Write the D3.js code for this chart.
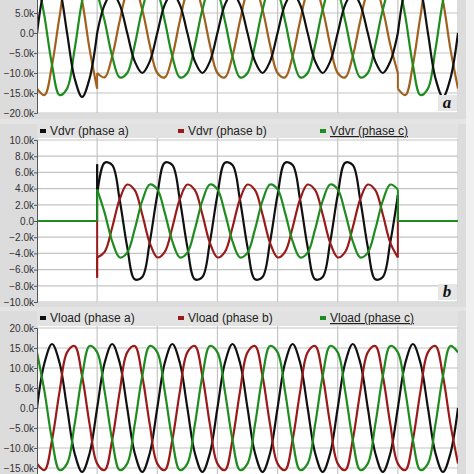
<!DOCTYPE html>
<html><head><meta charset="utf-8">
<script src="https://cdn.jsdelivr.net/npm/d3@7"></script>
<style>body{margin:0;background:#fff}svg{display:block}</style>
</head><body>
<svg id="c" width="474" height="474"></svg>
<script>
// time in ms; duplicated times mark jumps
const tJump = [0,2.5,5,7.5,10,12.5,15,17.5,20,
 20,22.5,25,27.5,30,32.5,35,37.5,40,42.5,45,47.5,50,52.5,55,57.5,60,62.5,65,67.5,70,72.5,75,77.5,80,82.5,85,87.5,90,92.5,95,97.5,100,102.5,105,107.5,110,112.5,115,117.5,120,
 120,122.5,125,127.5,130,132.5,135,137.5,140];
const tSpike = [0,2.5,5,7.5,10,12.5,15,17.5,20,
 20,20,22.5,25,27.5,30,32.5,35,37.5,40,42.5,45,47.5,50,52.5,55,57.5,60,62.5,65,67.5,70,72.5,75,77.5,80,82.5,85,87.5,90,92.5,95,97.5,100,102.5,105,107.5,110,112.5,115,117.5,120,
 120,122.5,125,127.5,130,132.5,135,137.5,140];
const tLoad = [0,2.5,5,7.5,10,12.5,15,17.5,20,22.5,25,27.5,30,32.5,35,37.5,40,42.5,45,47.5,50,52.5,55,57.5,60,62.5,65,67.5,70,72.5,75,77.5,80,82.5,85,87.5,90,92.5,95,97.5,100,102.5,105,107.5,110,112.5,115,117.5,120,122.5,125,127.5,130,132.5,135,137.5,140];

// panel a: source voltage (k)
const srcA = [0,11.3,16,11.3,0,-11.3,-16,-11.3,0,
 0,7.1,10,7.1,0,-7.1,-10,-7.1, 0,7.1,10,7.1,0,-7.1,-10,-7.1, 0,7.1,10,7.1,0,-7.1,-10,-7.1, 0,7.1,10,7.1,0,-7.1,-10,-7.1, 0,7.1,10,7.1,0,-7.1,-10,-7.1, 0,
 0,11.3,16,11.3,0,-11.3,-16,-11.3,0];
const srcB = [-13.9,-15.5,-8,4.1,13.9,15.5,8,-4.1,-13.9,
 -10,-11.1,-5.8,3,10,11.1,5.8,-3, -10,-11.1,-5.8,3,10,11.1,5.8,-3, -10,-11.1,-5.8,3,10,11.1,5.8,-3, -10,-11.1,-5.8,3,10,11.1,5.8,-3, -10,-11.1,-5.8,3,10,11.1,5.8,-3, -10,
 -13.9,-15.5,-8,4.1,13.9,15.5,8,-4.1,-13.9];
const srcC = [13.9,4.1,-8,-15.5,-13.9,-4.1,8,15.5,13.9,
 10,3,-5.8,-11.1,-10,-3,5.8,11.1, 10,3,-5.8,-11.1,-10,-3,5.8,11.1, 10,3,-5.8,-11.1,-10,-3,5.8,11.1, 10,3,-5.8,-11.1,-10,-3,5.8,11.1, 10,3,-5.8,-11.1,-10,-3,5.8,11.1, 10,
 13.9,4.1,-8,-15.5,-13.9,-4.1,8,15.5,13.9];

// panel b: DVR voltage (k)
const dvrA = [0,0,0,0,0,0,0,0,0,
 7.0,3.2,7.2,6.9,2.6,-3.2,-7.2,-6.9,-2.6, 3.2,7.2,6.9,2.6,-3.2,-7.2,-6.9,-2.6, 3.2,7.2,6.9,2.6,-3.2,-7.2,-6.9,-2.6, 3.2,7.2,6.9,2.6,-3.2,-7.2,-6.9,-2.6, 3.2,7.2,6.9,2.6,-3.2,-7.2,-6.9,-2.6, 3.2,
 0,0,0,0,0,0,0,0,0];
const dvrB = [0,0,0,0,0,0,0,0,0,
 -7.0,-4.5,-3.8,-0.8,2.7,4.5,3.8,0.8,-2.7, -4.5,-3.8,-0.8,2.7,4.5,3.8,0.8,-2.7, -4.5,-3.8,-0.8,2.7,4.5,3.8,0.8,-2.7, -4.5,-3.8,-0.8,2.7,4.5,3.8,0.8,-2.7, -4.5,-3.8,-0.8,2.7,4.5,3.8,0.8,-2.7, -4.5,
 0,0,0,0,0,0,0,0,0];
const dvrC = [0,0,0,0,0,0,0,0,0,
 3.9,3.9,1.0,-2.5,-4.5,-3.9,-1.0,2.5,4.5, 3.9,1.0,-2.5,-4.5,-3.9,-1.0,2.5,4.5, 3.9,1.0,-2.5,-4.5,-3.9,-1.0,2.5,4.5, 3.9,1.0,-2.5,-4.5,-3.9,-1.0,2.5,4.5, 3.9,1.0,-2.5,-4.5,-3.9,-1.0,2.5,4.5, 3.9,
 0,0,0,0,0,0,0,0,0];

// panel c: load voltage (k)
const loadA = [0,11.3,16,11.3,0,-11.3,-16,-11.3, 0,11.3,16,11.3,0,-11.3,-16,-11.3, 0,11.3,16,11.3,0,-11.3,-16,-11.3, 0,11.3,16,11.3,0,-11.3,-16,-11.3, 0,11.3,16,11.3,0,-11.3,-16,-11.3, 0,11.3,16,11.3,0,-11.3,-16,-11.3, 0,11.3,16,11.3,0,-11.3,-16,-11.3, 0];
const loadB = [-13.9,-15.5,-8,4.1,13.9,15.5,8,-4.1, -13.9,-15.5,-8,4.1,13.9,15.5,8,-4.1, -13.9,-15.5,-8,4.1,13.9,15.5,8,-4.1, -13.9,-15.5,-8,4.1,13.9,15.5,8,-4.1, -13.9,-15.5,-8,4.1,13.9,15.5,8,-4.1, -13.9,-15.5,-8,4.1,13.9,15.5,8,-4.1, -13.9,-15.5,-8,4.1,13.9,15.5,8,-4.1, -13.9];
const loadC = [13.9,4.1,-8,-15.5,-13.9,-4.1,8,15.5, 13.9,4.1,-8,-15.5,-13.9,-4.1,8,15.5, 13.9,4.1,-8,-15.5,-13.9,-4.1,8,15.5, 13.9,4.1,-8,-15.5,-13.9,-4.1,8,15.5, 13.9,4.1,-8,-15.5,-13.9,-4.1,8,15.5, 13.9,4.1,-8,-15.5,-13.9,-4.1,8,15.5, 13.9,4.1,-8,-15.5,-13.9,-4.1,8,15.5, 13.9];

const ticksA = [-20,-15,-10,-5,0,5,10,15,20];
const labelTicksA = [-20,-15,-10,-5,0,5];
const ticksB = [-10,-8,-6,-4,-2,0,2,4,6,8,10];
const ticksC = [-20,-15,-10,-5,0,5,10,15,20];
const labelTicksC = [-15,-10,-5,0,5,10,15,20];
const labelsB = ["Vdvr (phase a)","Vdvr (phase b)","Vdvr (phase c)"];
const labelsC = ["Vload (phase a)","Vload (phase b)","Vload (phase c)"];

const svg = d3.select("#c");
svg.append("rect").attr("width",474).attr("height",474).attr("fill","#e4e4e4");
svg.append("rect").attr("x",466).attr("width",8).attr("height",474).attr("fill","#f0f0f0");
const x = d3.scaleLinear().domain([0,140]).range([37,458]);
const fmt = v => v===0 ? "0.0" : d3.format(".1f")(v)+"k";

function panel(cfg){
  const g = svg.append("g");
  g.append("rect").attr("x",0).attr("y",cfg.top).attr("width",466).attr("height",cfg.bottom-cfg.top).attr("fill","#dcdcdc");
  if (cfg.legend) g.append("rect").attr("x",37).attr("y",cfg.top).attr("width",421).attr("height",cfg.py0-cfg.top).attr("fill","#e2e2e2");
  const y = d3.scaleLinear().domain(cfg.dom).range(cfg.rng);
  const cp = "cp"+cfg.id;
  svg.append("clipPath").attr("id",cp).append("rect").attr("x",37).attr("y",cfg.py0).attr("width",421).attr("height",cfg.py1-cfg.py0);
  g.append("rect").attr("x",37).attr("y",cfg.py0).attr("width",421).attr("height",cfg.py1-cfg.py0).attr("fill","#fff");
  const gg = g.append("g").attr("clip-path",`url(#${cp})`);
  cfg.ticks.forEach(t=>gg.append("line").attr("x1",37).attr("x2",458).attr("y1",y(t)).attr("y2",y(t)).attr("stroke","#c4c4c4").attr("stroke-width",1.2));
  d3.range(0,141,20).forEach(t=>gg.append("line").attr("x1",x(t)).attr("x2",x(t)).attr("y1",cfg.py0).attr("y2",cfg.py1).attr("stroke","#c4c4c4").attr("stroke-width",1.2));
  const ax = g.append("g").attr("transform","translate(37,0)").call(d3.axisLeft(y).tickValues(cfg.labelTicks).tickFormat(fmt).tickSize(3));
  ax.select(".domain").attr("stroke","#555");
  ax.selectAll("line").attr("stroke","#555");
  ax.selectAll("text").attr("font-family","Liberation Sans, Arial").attr("font-size",10).attr("fill","#333").attr("x",-3);
  const line = d3.line().x(d=>x(d[0])).y(d=>y(d[1])).curve(d3.curveCatmullRom.alpha(0.5));
  cfg.series.forEach(s=>{
    const pts = s.t.map((t,i)=>[t,s.v[i]]);
    let seg=[pts[0]];
    const segs=[];
    for(let i=1;i<pts.length;i++){
      if(pts[i][0]===pts[i-1][0]){segs.push(seg);gg.append("line").attr("x1",x(pts[i-1][0])).attr("x2",x(pts[i][0])).attr("y1",y(pts[i-1][1])).attr("y2",y(pts[i][1])).attr("stroke",s.c).attr("stroke-width",2);seg=[pts[i]];}
      else seg.push(pts[i]);
    }
    segs.push(seg);
    segs.forEach(sg=>{ if(sg.length>1) gg.append("path").attr("d",line(sg)).attr("fill","none").attr("stroke",s.c).attr("stroke-width",2.2);});
  });
  if (cfg.legend){
    const lx=[40,178,320];
    cfg.legend.forEach((l,i)=>{
      g.append("rect").attr("x",lx[i]).attr("y",cfg.top+5).attr("width",6).attr("height",4).attr("fill",cfg.series[i].c);
      const tx=g.append("text").attr("x",lx[i]+10).attr("y",cfg.top+11).attr("font-family","Liberation Sans, Arial").attr("font-size",12).attr("fill","#222").text(l);
      if(i===2) tx.attr("text-decoration","underline");
    });
  }
  if (cfg.letter){
    g.append("rect").attr("x",438).attr("y",cfg.py1-18).attr("width",19).attr("height",16).attr("fill","#e6e6e6");
    g.append("text").attr("x",447).attr("y",cfg.py1-5).attr("text-anchor","middle").attr("font-family","Liberation Serif, Times New Roman").attr("font-style","italic").attr("font-weight","bold").attr("font-size",17).attr("fill","#111").text(cfg.letter);
  }
}

panel({id:1,top:-60,bottom:119,py0:-50,py1:113,dom:[-20,20],rng:[113,-47],ticks:ticksA,labelTicks:labelTicksA,letter:"a",
  series:[{t:tJump,v:srcB,c:"#a0601e"},{t:tJump,v:srcC,c:"#1e8c1e"},{t:tJump,v:srcA,c:"#111"}]});
panel({id:2,top:124,bottom:307,py0:138,py1:302,dom:[-10,10],rng:[302,140],ticks:ticksB,labelTicks:ticksB,letter:"b",legend:labelsB,
  series:[{t:tSpike,v:dvrA,c:"#111"},{t:tSpike,v:dvrB,c:"#9a1a1a"},{t:tSpike,v:dvrC,c:"#1e8c1e"}]});
panel({id:3,top:311,bottom:500,py0:326,py1:500,dom:[-20,20],rng:[488,328],ticks:ticksC,labelTicks:labelTicksC,legend:labelsC,
  series:[{t:tLoad,v:loadA,c:"#111"},{t:tLoad,v:loadB,c:"#9a1a1a"},{t:tLoad,v:loadC,c:"#1e8c1e"}]});
</script>
</body></html>
